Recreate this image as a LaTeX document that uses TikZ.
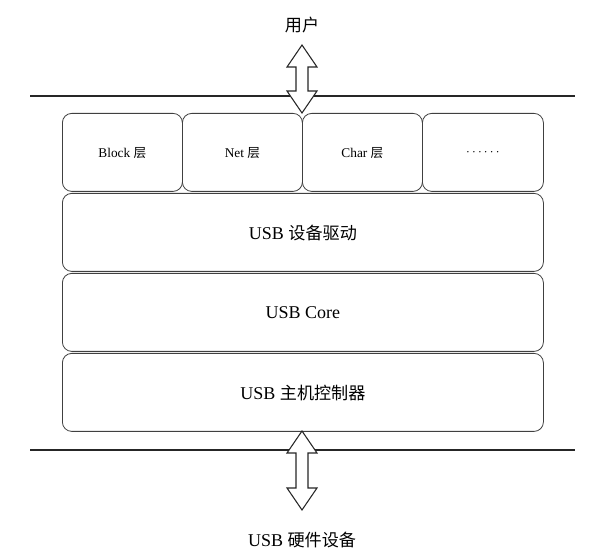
\documentclass[tikz,border=0pt]{standalone}
\usepackage{fontspec}
\setmainfont{Liberation Serif}
\newfontfamily\cjk{Noto Sans CJK SC}[Scale=0.95]
\begin{document}
\begin{tikzpicture}[x=0.75pt,y=-0.75pt,
  blk/.style={draw=black!75,rounded corners=7pt,line width=0.6pt,minimum height=78*0.75pt,anchor=north west,inner sep=0pt,text depth=-6pt},
  hl/.style={draw=black!85,line width=0.8pt},
  dar/.style={draw=black!85,line width=0.8pt,fill=white}]
\useasboundingbox (0,0) rectangle (604,559);
\draw[hl] (30,96) coordinate (l1) -- (575,96) coordinate (r1);
\draw[hl] (30,450) coordinate (l2) -- (575,450) coordinate (r2);
\node[blk,minimum width=120*0.75pt] (b1) at (62,113) {\normalsize Block {\cjk 层}};
\node[blk,minimum width=120*0.75pt] (b2) at (182,113) {\normalsize Net {\cjk 层}};
\node[blk,minimum width=120*0.75pt] (b3) at (302,113) {\normalsize Char {\cjk 层}};
\node[blk,minimum width=121*0.75pt] (b4) at (422,113) {\normalsize $\cdots\cdots$};
\node[blk,minimum width=481*0.75pt] (d) at (62,193) {\fontsize{13.5}{16}\selectfont USB {\cjk 设备驱动}};
\node[blk,minimum width=481*0.75pt] (c) at (62,273) {\fontsize{13.5}{16}\selectfont USB Core};
\node[blk,minimum width=481*0.75pt] (h) at (62,353) {\fontsize{13.5}{16}\selectfont USB {\cjk 主机控制器}};
\node (u) at (302,25) {\fontsize{13.5}{16}\selectfont\cjk 用户};
\node (w) at (302,540) {\fontsize{13.5}{16}\selectfont USB {\cjk 硬件设备}};
\draw[dar] (302,45) -- (317,67) -- (308,67) -- (308,91) -- (317,91) -- (302,113) -- (287,91) -- (296,91) -- (296,67) -- (287,67) -- cycle;
\draw[dar] (302,431) -- (317,453) -- (308,453) -- (308,488) -- (317,488) -- (302,510) -- (287,488) -- (296,488) -- (296,453) -- (287,453) -- cycle;
\end{tikzpicture}
\end{document}
